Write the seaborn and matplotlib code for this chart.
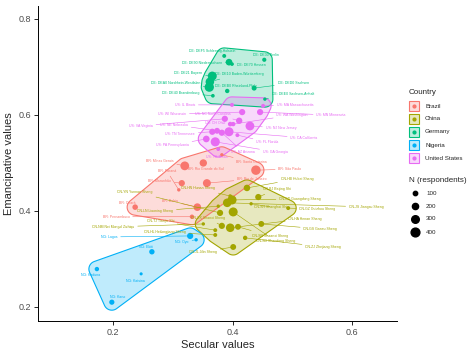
import numpy as np
import pandas as pd
import matplotlib
matplotlib.use('Agg')
import matplotlib.pyplot as plt
import seaborn as sns
from matplotlib.patches import Polygon, Rectangle
from matplotlib.lines import Line2D


# region values
de_names = ['DE: DEF5 Schleswig-Holstein', 'DE: DE30 Berlin', 'DE: DE90 Niedersachsen',
            'DE: DE70 Hessen', 'DE: DE21 Bayern', 'DE: DE10 Baden-Württemberg',
            'DE: DEA0 Nordrhein-Westfalen', 'DE: DEB0 Rheinland-Pfalz', 'DE: DED0 Sachsen',
            'DE: DE40 Brandenburg', 'DE: DEE0 Sachsen-Anhalt']
de_sec = [0.386, 0.453, 0.394, 0.399, 0.366, 0.362, 0.361, 0.391, 0.436, 0.367, 0.454]
de_ema = [0.723, 0.715, 0.710, 0.706, 0.681, 0.669, 0.658, 0.650, 0.656, 0.640, 0.633]
de_n = [80, 90, 230, 70, 420, 380, 450, 100, 130, 70, 60]

us_names = ['US: IL Illinois', 'US: WI Wisconsin', 'US: MN Minnesota', 'US: VA Virginia',
            'US: NC North Carolina', 'US: OH Ohio', 'US: WA Washington', 'US: NJ New Jersey',
            'US: TN Tennessee', 'US: NE Nebraska', 'US: AZ Arizona', 'US: CA California',
            'US: PA Pennsylvania', 'US: GA Georgia', 'US: FL Florida', 'US: TX Texas',
            'US: MA Massachusetts']
us_sec = [0.399, 0.416, 0.446, 0.387, 0.411, 0.396, 0.401, 0.429, 0.366, 0.374, 0.382,
          0.394, 0.356, 0.371, 0.408, 0.376, 0.451]
us_ema = [0.621, 0.606, 0.606, 0.592, 0.588, 0.581, 0.581, 0.577, 0.565, 0.567, 0.563,
          0.565, 0.550, 0.544, 0.558, 0.529, 0.619]
us_n = [80, 200, 200, 200, 210, 110, 100, 400, 200, 180, 200, 420, 230, 430, 80, 80, 80]

br_names = ['BR: Minas Gerais', 'BR: Rio Grande do Sul', 'BR: Paraná', 'BR: Maranhão',
            'BR: Rio de Janeiro', 'BR: Santa Catarina', 'BR: São Paulo', 'BR: Bahia',
            'BR: Ceará', 'BR: Pernambuco']
br_sec = [0.320, 0.351, 0.310, 0.315, 0.357, 0.382, 0.439, 0.341, 0.237, 0.332]
br_ema = [0.494, 0.500, 0.444, 0.458, 0.458, 0.517, 0.485, 0.408, 0.408, 0.388]
br_n = [400, 280, 60, 200, 330, 60, 460, 300, 160, 100]

cn_names = ['CN-HB Hubei Sheng', 'CN-BJ Beijing Shi', 'CN-SH Shanghai Shi',
            'CN-GD Guangdong Sheng', 'CN-JS Jiangsu Sheng', 'CN-SD Shandong Sheng',
            'CN-YN Yunnan Sheng', 'CN-LN Liaoning Sheng', 'CN-GZ Guizhou Sheng',
            'CN-GS Gansu Sheng', 'CN-HA Henan Sheng', 'CN-HL Heilongjiang Sheng',
            'CN-TJ Tianjin Shi', 'CN-NM Nei Mongol Zizhiqu', 'CN-SN Shaanxi Sheng',
            'CN-JL Jilin Sheng', 'CN-ZJ Zhejiang Sheng', 'CN-SX Shanxi Sheng',
            'CN-HN Hunan Sheng']
cn_sec = [0.424, 0.443, 0.431, 0.399, 0.391, 0.401, 0.379, 0.376, 0.493, 0.448, 0.396,
          0.371, 0.371, 0.351, 0.409, 0.401, 0.421, 0.382, 0.396]
cn_ema = [0.448, 0.429, 0.415, 0.423, 0.417, 0.398, 0.396, 0.410, 0.406, 0.373, 0.365,
          0.350, 0.360, 0.373, 0.367, 0.325, 0.344, 0.369, 0.431]
cn_n = [220, 200, 60, 430, 380, 420, 200, 60, 80, 180, 380, 80, 80, 60, 180, 180, 100, 200, 70]

ng_names = ['NG: Lagos', 'NG: Oyo', 'NG: Ekiti', 'NG: Kaduna', 'NG: Katsina', 'NG: Kano']
ng_sec = [0.329, 0.339, 0.265, 0.173, 0.247, 0.198]
ng_ema = [0.348, 0.340, 0.315, 0.279, 0.269, 0.210]
ng_n = [200, 60, 150, 100, 50, 140]

countries = ['Brazil', 'China', 'Germany', 'Nigeria', 'United States']
colors = ['#F8766D', '#A3A500', '#00BF7D', '#00B0F6', '#E76BF3']
size_breaks = [100, 200, 300, 400]

# label offsets (pixels) for the repelled text
label_off = {
    'DE: DEF5 Schleswig-Holstein': (-12, 5), 'DE: DE30 Berlin': (2, 5),
    'DE: DE90 Niedersachsen': (-27, -1), 'DE: DE70 Hessen': (19, -1),
    'DE: DE21 Bayern': (-24, 3), 'DE: DE10 Baden-Württemberg': (29, 8),
    'DE: DEA0 Nordrhein-Westfalen': (-34, 4), 'DE: DEB0 Rheinland-Pfalz': (9, 5),
    'DE: DED0 Sachsen': (39, 5), 'DE: DE40 Brandenburg': (-32, 3),
    'DE: DEE0 Sachsen-Anhalt': (28, 5),
    'US: IL Illinois': (-47, 0), 'US: WI Wisconsin': (-70, -2), 'US: MN Minnesota': (71, -3),
    'US: VA Virginia': (-84, -7), 'US: NC North Carolina': (-26, 7), 'US: OH Ohio': (-15, 1),
    'US: WA Washington': (59, 9), 'US: NJ New Jersey': (31, -2), 'US: TN Tennessee': (-32, -2),
    'US: NE Nebraska': (-43, 6), 'US: AZ Arizona': (21, -19), 'US: CA California': (75, -6),
    'US: PA Pennsylvania': (-34, -6), 'US: GA Georgia': (60, -10), 'US: FL Florida': (30, -7),
    'US: TX Texas': (-1, -8), 'US: MA Massachusetts': (32, 1),
    'BR: Minas Gerais': (-25, 5), 'BR: Rio Grande do Sul': (3, -6), 'BR: Paraná': (-12, 19),
    'BR: Maranhão': (-22, 2), 'BR: Rio de Janeiro': (45, 4), 'BR: Santa Catarina': (30, -7),
    'BR: São Paulo': (34, 1), 'BR: Bahia': (-27, 6), 'BR: Ceará': (-8, 4),
    'BR: Pernambuco': (-76, 0),
    'CN-HB Hubei Sheng': (50, 9), 'CN-BJ Beijing Shi': (19, 8), 'CN-SH Shanghai Shi': (19, -3),
    'CN-GD Guangdong Sheng': (68, 1), 'CN-JS Jiangsu Sheng': (139, -4),
    'CN-SD Shandong Sheng': (42, -29), 'CN-YN Yunnan Sheng': (-85, 21),
    'CN-LN Liaoning Sheng': (-63, -5), 'CN-GZ Guizhou Sheng': (29, -1),
    'CN-GS Gansu Sheng': (59, -5), 'CN-HA Henan Sheng': (75, 9),
    'CN-HL Heilongjiang Sheng': (-50, 3), 'CN-TJ Tianjin Shi': (-55, 9),
    'CN-NM Nei Mongol Zizhiqu': (-90, -3), 'CN-SN Shaanxi Sheng': (32, -9),
    'CN-JL Jilin Sheng': (-30, -5), 'CN-ZJ Zhejiang Sheng': (78, -9),
    'CN-SX Shanxi Sheng': (-14, 8), 'CN-HN Hunan Sheng': (-32, 8),
    'NG: Lagos': (-81, -1), 'NG: Oyo': (-14, -2), 'NG: Ekiti': (-6, 5),
    'NG: Kaduna': (-6, -6), 'NG: Katsina': (-6, -7), 'NG: Kano': (6, 5),
}

frames = []
for c, nm, xs, ys, ns in [('Germany', de_names, de_sec, de_ema, de_n),
                          ('United States', us_names, us_sec, us_ema, us_n),
                          ('Brazil', br_names, br_sec, br_ema, br_n),
                          ('China', cn_names, cn_sec, cn_ema, cn_n),
                          ('Nigeria', ng_names, ng_sec, ng_ema, ng_n)]:
    frames.append(pd.DataFrame({'region': nm, 'secular': xs, 'emancipative': ys,
                                'N': ns, 'Country': c}))
df = pd.concat(frames, ignore_index=True)
pal = dict(zip(countries, colors))

sns.set_theme(style='ticks')
plt.rcParams['font.family'] = ['Liberation Sans', 'DejaVu Sans']

W, H = 474, 355
fig = plt.figure(figsize=(W / 100, H / 100), dpi=100)
ax = fig.add_axes([38 / W, 34 / H, (397 - 38) / W, (321 - 6) / H])
ax.set_xlim(0.0745, 0.675)
ax.set_ylim(0.1708, 0.827)


def convex_hull(p):
    p = sorted(map(tuple, p))
    def cross(o, a, b):
        return (a[0] - o[0]) * (b[1] - o[1]) - (a[1] - o[1]) * (b[0] - o[0])
    lower, upper = [], []
    for q in p:
        while len(lower) >= 2 and cross(lower[-2], lower[-1], q) <= 0:
            lower.pop()
        lower.append(q)
    for q in reversed(p):
        while len(upper) >= 2 and cross(upper[-2], upper[-1], q) <= 0:
            upper.pop()
        upper.append(q)
    return np.array(lower[:-1] + upper[:-1])


def hull_poly(xs, ys, r=8):
    pts = ax.transData.transform(np.column_stack([xs, ys]))
    t = np.linspace(0, 2 * np.pi, 60, endpoint=False)
    circ = np.column_stack([np.cos(t), np.sin(t)]) * r
    cloud = (pts[:, None, :] + circ[None, :, :]).reshape(-1, 2)
    return ax.transData.inverted().transform(convex_hull(cloud))


# hulls per country (geom_mark_hull look)
for c in countries:
    sub = df[df['Country'] == c]
    poly = hull_poly(sub['secular'].values, sub['emancipative'].values)
    ax.add_patch(Polygon(poly, closed=True, facecolor=pal[c], alpha=0.25, edgecolor='none', zorder=1))
    ax.add_patch(Polygon(poly, closed=True, facecolor='none', edgecolor=pal[c], lw=0.8, zorder=1.5))

sns.scatterplot(data=df, x='secular', y='emancipative', hue='Country', size='N',
                palette=pal, sizes=(0, 50), size_norm=(0, 500), linewidth=0,
                legend=False, ax=ax, zorder=3)

for _, row in df.iterrows():
    dx, dy = label_off[row['region']]
    col = pal[row['Country']]
    seg = np.hypot(dx, dy) > 14
    ax.annotate(row['region'], xy=(row['secular'], row['emancipative']),
                xytext=(dx, dy), textcoords='offset pixels', ha='center', va='center',
                fontsize=2.5, color=col, zorder=4,
                arrowprops=dict(arrowstyle='-', color=col, lw=0.4, shrinkA=0, shrinkB=1) if seg else None)

ax.set_xticks([0.2, 0.4, 0.6])
ax.set_yticks([0.2, 0.4, 0.6, 0.8])
ax.tick_params(labelsize=6.5, labelcolor='#4D4D4D', length=3, width=0.7, pad=2)
ax.set_xlabel('Secular values', fontsize=8, labelpad=2)
ax.set_ylabel('Emancipative values', fontsize=8, labelpad=3)
for s in ['left', 'bottom']:
    ax.spines[s].set_linewidth(0.7)
    ax.spines[s].set_color('black')
sns.despine(ax=ax)


# legends, drawn in figure pixel space
def fx(px):
    return px / W


def fy(py):
    return 1 - py / H


fig.text(fx(409), fy(93), 'Country', fontsize=5.8, va='center', ha='left')
for i, c in enumerate(countries):
    yc = 106 + i * 13
    fig.add_artist(Rectangle((fx(409), fy(yc + 5)), 10 / W, 10 / H, transform=fig.transFigure,
                             facecolor=pal[c], alpha=0.25, edgecolor='none'))
    fig.add_artist(Rectangle((fx(409), fy(yc + 5)), 10 / W, 10 / H, transform=fig.transFigure,
                             facecolor='none', edgecolor=pal[c], lw=0.8))
    fig.add_artist(Line2D([fx(414)], [fy(yc)], marker='o', markersize=2, color=pal[c],
                          lw=0, transform=fig.transFigure))
    fig.text(fx(425), fy(yc), c, fontsize=4.5, va='center', ha='left')

fig.text(fx(409), fy(180), 'N (respondents)', fontsize=5.8, va='center', ha='left')
for i, n in enumerate(size_breaks):
    yc = 193 + i * 13
    fig.add_artist(Line2D([fx(415)], [fy(yc)], marker='o', markersize=np.sqrt(n * 0.1),
                          color='black', lw=0, transform=fig.transFigure))
    fig.text(fx(426), fy(yc), str(n), fontsize=4.5, va='center', ha='left')

fig.savefig('out.png', dpi=100)
